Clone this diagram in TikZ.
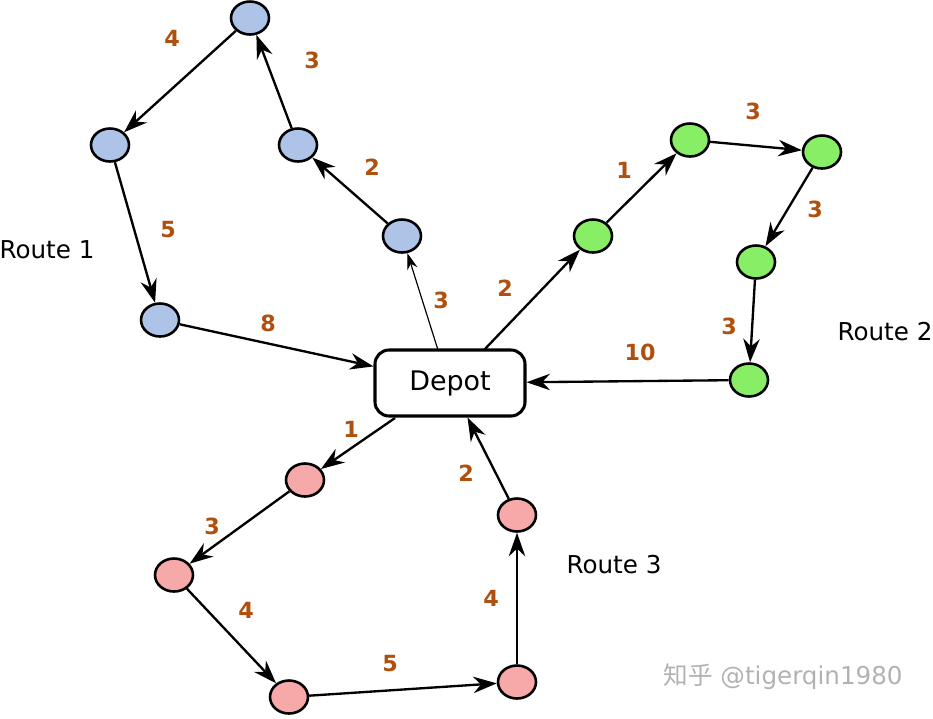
\documentclass[tikz,border=0pt]{standalone}
\usepackage{fontspec}
\setmainfont{DejaVu Sans}
\newfontfamily\cjk{Noto Sans CJK SC}
\usetikzlibrary{arrows.meta,shapes.geometric}
\definecolor{lblue}{HTML}{AEC3E8}
\definecolor{lgreen}{HTML}{88EE66}
\definecolor{lred}{HTML}{F7A8A8}
\definecolor{wt}{HTML}{B0500F}
\begin{document}
\begin{tikzpicture}[x=0.03cm,y=-0.03cm,
 city/.style={ellipse,draw,line width=2.2pt,minimum width=38*0.03cm,minimum height=33*0.03cm,inner sep=0pt},
 b/.style={city,fill=lblue}, g/.style={city,fill=lgreen}, r/.style={city,fill=lred},
 e/.style={line width=2pt,-{Stealth[length=20pt,width=14pt]}},
 w/.style={text=wt,font=\fontsize{19}{21}\selectfont\bfseries},
 rl/.style={font=\fontsize{21}{24}\selectfont}]
\useasboundingbox (0,0) rectangle (933,718);
\node[draw,line width=2.6pt,rounded corners=12pt,minimum width=150*0.03cm,minimum height=66*0.03cm,font=\fontsize{23}{25}\selectfont] (D) at (450,383) {Depot};
\node[b] (B1) at (250,18) {}; \node[b] (B2) at (110,145) {}; \node[b] (B3) at (298,145) {};
\node[b] (B4) at (402,236) {}; \node[b] (B5) at (160,320) {};
\node[g] (G1) at (593,236) {}; \node[g] (G2) at (690,140) {}; \node[g] (G3) at (822,152) {};
\node[g] (G4) at (756,262) {}; \node[g] (G5) at (749,380) {};
\node[r] (R1) at (305,480) {}; \node[r] (R2) at (174,575) {}; \node[r] (R3) at (289,697) {};
\node[r] (R4) at (517,682) {}; \node[r] (R5) at (517,515) {};
\coordinate (Dt) at (438,350); \coordinate (Dg) at (484,350); \coordinate (Dr) at (395,418);
\draw[line width=1pt,-{Stealth[length=14pt,width=9pt]}] (Dt) -- (B4);
\draw[e] (B4)--(B3); \draw[e] (B3)--(B1); \draw[e] (B1)--(B2); \draw[e] (B2)--(B5); \draw[e] (B5)--(D);
\draw[e] (Dg)--(G1); \draw[e] (G1)--(G2); \draw[e] (G2)--(G3); \draw[e] (G3)--(G4); \draw[e] (G4)--(G5); \draw[e] (G5)--(D);
\draw[e] (Dr)--(R1); \draw[e] (R1)--(R2); \draw[e] (R2)--(R3); \draw[e] (R3)--(R4); \draw[e] (R4)--(R5); \draw[e] (R5)--(D);
\node[w] (l1) at (441,300) {3}; \node[w] (l2) at (372,167) {2}; \node[w] (l3) at (312,60) {3};
\node[w] (l4) at (172,38) {4}; \node[w] (l5) at (168,230) {5}; \node[w] (l6) at (268,323) {8};
\node[w] (l7) at (505,288) {2}; \node[w] (l8) at (624,170) {1}; \node[w] (l9) at (753,111) {3};
\node[w] (l10) at (815,209) {3}; \node[w] (l11) at (729,326) {3}; \node[w] (l12) at (640,352) {10};
\node[w] (l13) at (351,429) {1}; \node[w] (l14) at (212,526) {3}; \node[w] (l15) at (246,610) {4};
\node[w] (l16) at (390,664) {5}; \node[w] (l17) at (491,598) {4}; \node[w] (l18) at (466,473) {2};
\node[rl] (t1) at (47,250) {Route 1}; \node[rl] (t2) at (885,332) {Route 2}; \node[rl] (t3) at (614,565) {Route 3};
\node[text=black!30,font=\fontsize{21}{24}\selectfont] (wm) at (783,677) {{\cjk 知乎} @tigerqin1980};
\end{tikzpicture}
\end{document}
